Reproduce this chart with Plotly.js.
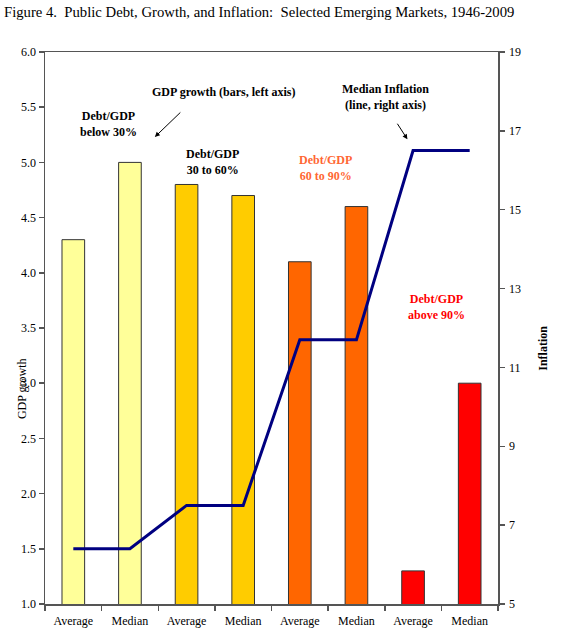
<!DOCTYPE html>
<html>
<head>
<meta charset="utf-8">
<script src="https://cdn.plot.ly/plotly-3.0.1.min.js"></script>
<style>
  html, body { margin: 0; padding: 0; background: #ffffff; }
  #chart { width: 567px; height: 633px; }
</style>
</head>
<body>
<div id="chart"></div>
<script>
// values
const categories = ['Average', 'Median', 'Average', 'Median', 'Average', 'Median', 'Average', 'Median'];
const gdpGrowth = [4.3, 5.0, 4.8, 4.7, 4.1, 4.6, 1.3, 3.0];
const inflation = [6.4, 6.4, 7.5, 7.5, 11.7, 11.7, 16.5, 16.5];
const leftTicks = [1.0, 1.5, 2.0, 2.5, 3.0, 3.5, 4.0, 4.5, 5.0, 5.5, 6.0];
const rightTicks = [5, 7, 9, 11, 13, 15, 17, 19];

const barColors = ['#FFFF99', '#FFFF99', '#FFCC00', '#FFCC00', '#FF6600', '#FF6600', '#FF0000', '#FF0000'];
const idx = categories.map((c, i) => i);

const SERIF = '"Liberation Serif", "Times New Roman", serif';
const AXIS = '#555555';

const bars = {
    x: idx,
    y: gdpGrowth,
    type: 'bar',
    width: 0.4,
    marker: {
        color: barColors,
        line: { color: '#333333', width: 1 }
    },
    hoverinfo: 'skip'
};

const line = {
    x: idx,
    y: inflation,
    yaxis: 'y2',
    type: 'scatter',
    mode: 'lines',
    line: { color: '#000080', width: 3 },
    hoverinfo: 'skip'
};

function note(text, x, y, color) {
    return {
        text: text, x: x, y: y, xref: 'x', yref: 'y',
        showarrow: false,
        font: { family: SERIF, size: 12, color: color || '#000000', weight: 'bold' }
    };
}

const annotations = [
    note('GDP growth (bars, left axis)', 2.65, 5.64),
    note('Debt/GDP<br>below 30%', 0.63, 5.35),
    note('Debt/GDP<br>30 to 60%', 2.45, 5.0),
    note('Debt/GDP<br>60 to 90%', 4.46, 4.95, '#FF6633'),
    note('Median Inflation<br>(line, right axis)', 5.51, 5.59),
    note('Debt/GDP<br>above 90%', 6.41, 3.69, '#FF0000'),
    {
        text: '', x: 1.44, y: 5.23, xref: 'x', yref: 'y',
        showarrow: true, ax: 27, ay: -26,
        arrowhead: 2, arrowsize: 1, arrowwidth: 1, arrowcolor: '#000000'
    },
    {
        text: '', x: 5.90, y: 5.21, xref: 'x', yref: 'y',
        showarrow: true, ax: -11, ay: -17,
        arrowhead: 2, arrowsize: 1, arrowwidth: 1, arrowcolor: '#000000'
    },
    {
        text: 'GDP growth', textangle: -90,
        x: -0.051, y: 0.391, xref: 'paper', yref: 'paper',
        xanchor: 'center', yanchor: 'middle',
        showarrow: false,
        font: { family: SERIF, size: 12, color: '#000000' }
    },
    {
        text: 'Inflation', textangle: -90,
        x: 1.099, y: 0.464, xref: 'paper', yref: 'paper',
        xanchor: 'center', yanchor: 'middle',
        showarrow: false,
        font: { family: SERIF, size: 12, color: '#000000', weight: 'bold' }
    }
];

const layout = {
    width: 567,
    height: 633,
    margin: { l: 45, r: 69, t: 52, b: 29 },
    paper_bgcolor: '#ffffff',
    plot_bgcolor: '#ffffff',
    showlegend: false,
    font: { family: SERIF, size: 12, color: '#000000' },
    title: {
        text: 'Figure 4.  Public Debt, Growth, and Inflation:  Selected Emerging Markets, 1946-2009',
        x: 0.007, xanchor: 'left',
        y: 0.981, yanchor: 'middle',
        font: { family: SERIF, size: 14.7, color: '#000000' }
    },
    xaxis: {
        range: [-0.5, 7.5],
        tickvals: idx,
        ticktext: categories,
        ticks: '',
        ticklabelstandoff: 5,
        showgrid: false,
        zeroline: false,
        showline: true,
        mirror: true,
        linecolor: AXIS,
        linewidth: 1.5,
        tickfont: { family: SERIF, size: 12, color: '#000000' },
        minor: { tick0: -0.5, dtick: 1, ticks: 'outside', ticklen: 5, tickcolor: AXIS, tickwidth: 1.5, showgrid: false }
    },
    yaxis: {
        range: [1, 6],
        tickvals: leftTicks,
        tickformat: '.1f',
        ticks: 'outside',
        ticklen: 5,
        tickcolor: AXIS,
        tickwidth: 1.5,
        showgrid: false,
        zeroline: false,
        showline: true,
        linecolor: AXIS,
        linewidth: 1.5,
        tickfont: { family: SERIF, size: 12, color: '#000000' }
    },
    yaxis2: {
        range: [5, 19],
        tickvals: rightTicks,
        overlaying: 'y',
        side: 'right',
        ticks: 'outside',
        ticklen: 5,
        tickcolor: AXIS,
        tickwidth: 1.5,
        ticklabelstandoff: 2,
        showgrid: false,
        zeroline: false,
        showline: true,
        linecolor: AXIS,
        linewidth: 1.5,
        tickfont: { family: SERIF, size: 12, color: '#000000' }
    },
    annotations: annotations
};

Plotly.newPlot('chart', [bars, line], layout, { displayModeBar: false, staticPlot: true });
</script>
</body>
</html>
